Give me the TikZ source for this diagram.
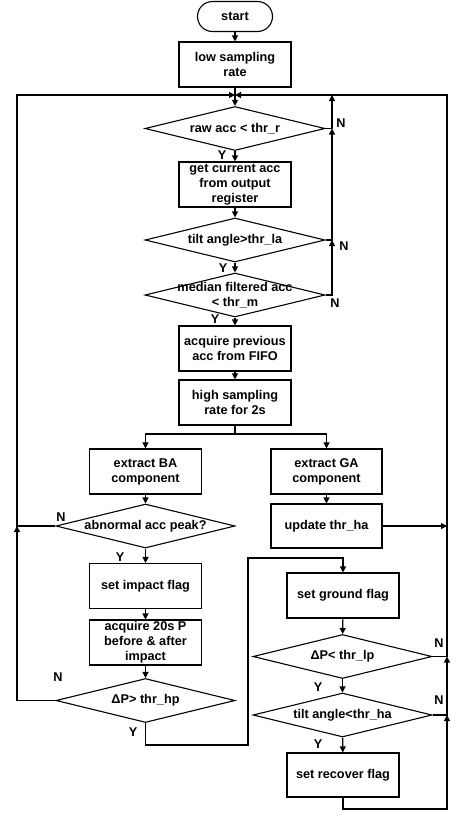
\documentclass[tikz,border=0pt]{standalone}
\usepackage{fontspec}
\setmainfont{Liberation Sans}
\usetikzlibrary{shapes.geometric,arrows.meta}
\begin{document}
\begin{tikzpicture}[x=1pt,y=-1pt]
	\tikzstyle{fleche}=[->,>={Triangle[length=6pt,width=6pt]},line width=1.1pt]
	\tikzstyle{trait}=[line width=1.1pt]
	\tikzstyle{texte}=[font=\bfseries\fontsize{12.7pt}{15pt}\selectfont]
	\tikzstyle{boite}=[texte,draw,line width=1.1pt,minimum width=112pt,minimum height=45pt,inner sep=1pt,align=center]
	\tikzstyle{losange}=[texte,draw,diamond,aspect=4,line width=1.1pt,minimum width=180pt,minimum height=44pt,inner sep=0pt,align=center]
	\tikzstyle{debut}=[texte,draw,rounded corners=15pt,line width=1.1pt,minimum width=75pt,minimum height=30pt]
	\tikzstyle{etiquette}=[texte,inner sep=0pt]
	\def\ColonneA{235}
	\def\ColonneB{145.5}
	\def\ColonneC{326.5}
	\def\ColonneD{343}
	\def\BordG{17}
	\def\BordD{447}
	\def\RetourN{332}
	\def\Boucle{95}
	\useasboundingbox (0,0) rectangle (474,833);
	% colonne centrale
	\node[debut] (start) at (\ColonneA,16.5) {start};
	\node[boite] (low) at (\ColonneA,64.5) {low sampling\\rate};
	\node[losange] (raw) at (\ColonneA,128.5) {raw acc < thr\_r};
	\node[boite] (current) at (\ColonneA,184.5) {get current acc\\from output\\register};
	\node[losange] (tilt) at (\ColonneA,240) {tilt angle>thr\_la};
	\node[losange,inner xsep=-45pt] (median) at (\ColonneA,295) {median filtered acc\\< thr\_m};
	\node[boite] (previous) at (\ColonneA,348.5) {acquire previous\\acc from FIFO};
	\node[boite] (high) at (\ColonneA,402.5) {high sampling\\rate for 2s};
	% branche BA
	\node[boite] (BA) at (\ColonneB,471.5) {extract BA\\component};
	\node[losange,minimum width=179pt] (abnormal) at (\ColonneB,526) {abnormal acc peak?};
	\node[boite] (impact) at (\ColonneB,586) {set impact flag};
	\node[boite] (acquire) at (\ColonneB,642.5) {acquire 20s P\\before \& after\\impact};
	\node[losange,minimum width=179pt] (hp) at (\ColonneB,700.5) {ΔP> thr\_hp};
	% branche GA
	\node[boite,minimum width=111pt] (GA) at (\ColonneC,471.5) {extract GA\\component};
	\node[boite,minimum width=111pt,minimum height=44pt] (update) at (\ColonneC,526) {update thr\_ha};
	\node[boite] (ground) at (\ColonneD,595.5) {set ground flag};
	\node[losange,minimum width=179pt] (lp) at (342.5,656.5) {ΔP< thr\_lp};
	\node[losange,minimum width=179pt] (tiltha) at (342.5,715) {tilt angle<thr\_ha};
	\node[boite,minimum height=44pt] (recover) at (\ColonneD,775) {set recover flag};
	% etiquettes
	\node[etiquette] (Yraw) at (222,155) {Y};
	\node[etiquette] (Nraw) at (341,123) {N};
	\node[etiquette] (Ytilt) at (223,268) {Y};
	\node[etiquette] (Ntilt) at (344,246) {N};
	\node[etiquette] (Ymedian) at (215,319) {Y};
	\node[etiquette] (Nmedian) at (335,303) {N};
	\node[etiquette] (Yabnormal) at (120,557) {Y};
	\node[etiquette] (Nabnormal) at (61,517) {N};
	\node[etiquette] (Yhp) at (133,732) {Y};
	\node[etiquette] (Nhp) at (58,677) {N};
	\node[etiquette] (Ylp) at (318,687) {Y};
	\node[etiquette] (Nlp) at (439,643) {N};
	\node[etiquette] (Ytiltha) at (318,744) {Y};
	\node[etiquette] (Ntiltha) at (439,700) {N};
	% points de passage
	\coordinate (jonction) at (\ColonneA,\Boucle);
	\coordinate (gauche) at (\BordG,526);
	\coordinate (droiteA) at (\BordD,715);
	\coordinate (droiteB) at (\BordD,656.5);
	\coordinate (retourA) at (\RetourN,240);
	\coordinate (retourB) at (\RetourN,128.5);
	\coordinate (partage) at (\ColonneA,434);
	\coordinate (coinA) at (248,745);
	\coordinate (coinB) at (248,558);
	\coordinate (coinC) at (\ColonneD,809);
	% fleches
	\draw[fleche] (start)--(low);
	\draw[fleche] (low)--(raw);
	\draw[fleche] (raw)--(current);
	\draw[fleche] (current)--(tilt);
	\draw[fleche] (tilt)--(median);
	\draw[fleche] (median)--(previous);
	\draw[fleche] (previous)--(high);
	\draw[trait] (high)--(partage);
	\draw[fleche] (partage) -| (BA);
	\draw[fleche] (partage) -| (GA);
	\draw[fleche] (BA)--(abnormal);
	\draw[fleche] (abnormal)--(impact);
	\draw[fleche] (impact)--(acquire);
	\draw[fleche] (acquire)--(hp);
	\draw[fleche] (GA)--(update);
	\draw[fleche] (ground)--(lp);
	\draw[fleche] (lp)--(tiltha);
	\draw[fleche] (tiltha)--(recover);
	\draw[fleche] (hp.south) |- (coinA) -- (coinB) -| (ground);
	% boucles
	\draw[fleche] (median.east) -| (retourA);
	\draw[fleche] (tilt.east) -- (retourA) -- (retourB);
	\draw[fleche] (raw.east) -- (retourB) -- (retourB |- jonction);
	\draw[fleche] (hp.west) -| (gauche);
	\draw[fleche] (abnormal.west) -- (gauche) |- (jonction);
	\draw[fleche] (recover) -- (coinC) -| (droiteA);
	\draw[fleche] (tiltha.east) -- (droiteA) -- (droiteB);
	\draw[fleche] (lp.east) -- (droiteB) |- (jonction);
	\draw[fleche] (update.east) -- (update.east -| droiteB);
\end{tikzpicture}
\end{document}
